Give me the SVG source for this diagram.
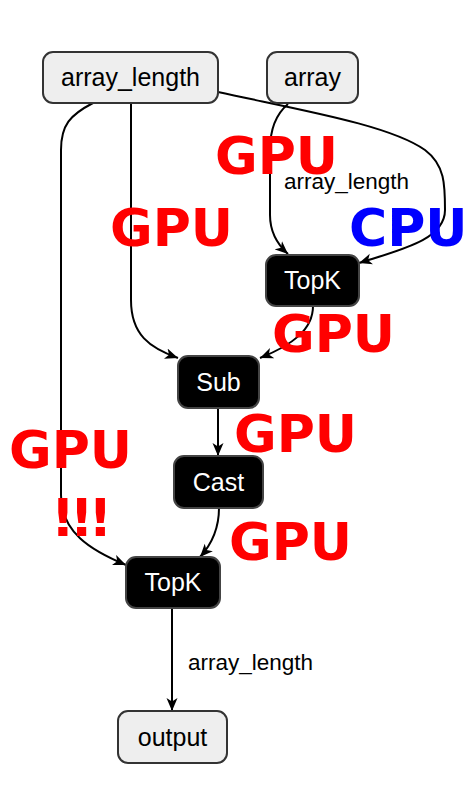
<svg xmlns="http://www.w3.org/2000/svg" width="474" height="811" viewBox="0 0 474 811">
<defs>
<marker id="arr" markerUnits="userSpaceOnUse" markerWidth="14" markerHeight="12" refX="13" refY="6" orient="auto">
<path d="M0,0.5 L13,6 L0,11.5 L3.5,6 Z" fill="#000"/>
</marker>
</defs>
<style>
.io rect{fill:#eeeeee;stroke:#333;stroke-width:2}
.op rect{fill:#000;stroke:#444;stroke-width:2}
.io text{font-family:"Liberation Sans",Arial,sans-serif;font-size:25px;fill:#000;text-anchor:middle}
.op text{font-family:"Liberation Sans",Arial,sans-serif;font-size:25px;fill:#fff;text-anchor:middle}
.edges path{fill:none;stroke:#000;stroke-width:2;marker-end:url(#arr)}
.el{font-family:"Liberation Sans",Arial,sans-serif;font-size:22.5px;fill:#000}
.big{font-family:"DejaVu Sans",Verdana,sans-serif;font-weight:bold;font-size:52px}
.red{fill:#ff0000}
.blue{fill:#0000ff}
</style>
<g class="edges" id="edges">
<path d="M93,103 C70,115 61,125 61,150 L61,495 C61,532 90,550 126,565"/>
<path d="M131,103 L131,300 C131,335 150,348 178,358"/>
<path d="M218,92 C300,110 390,125 425,150 C445,165 445,185 445,210 C445,240 400,250 359,263"/>
<path d="M288,104 C275,115 270,130 270,150 L270,215 C270,232 278,245 288,254"/>
<path d="M313,306 C313,330 292,345 260,358"/>
<path d="M218,408 L218,456"/>
<path d="M219,508 C219,530 211,545 200,557"/>
<path d="M172,608 L172,711"/>
</g>
<g id="n_array_length" class="io"><rect x="43" y="52" width="175" height="51" rx="10"/><text x="130.5" y="86">array_length</text></g>
<g id="n_array" class="io"><rect x="267" y="52" width="91" height="51" rx="10"/><text x="312.5" y="86">array</text></g>
<g id="n_topk1" class="op"><rect x="266" y="255" width="93" height="51" rx="10"/><text x="312.5" y="289">TopK</text></g>
<g id="n_sub" class="op"><rect x="178" y="356" width="81" height="52" rx="10"/><text x="218.5" y="391">Sub</text></g>
<g id="n_cast" class="op"><rect x="174" y="456" width="89" height="52" rx="10"/><text x="218.5" y="491">Cast</text></g>
<g id="n_topk2" class="op"><rect x="126" y="557" width="94" height="51" rx="10"/><text x="173" y="591">TopK</text></g>
<g id="n_output" class="io"><rect x="118" y="711" width="109" height="52" rx="10"/><text x="172.5" y="746">output</text></g>
<text class="el" x="284" y="189">array_length</text>
<text class="el" x="188" y="670">array_length</text>
<text class="big red" x="215" y="174">GPU</text>
<text class="big red" x="110" y="246">GPU</text>
<text class="big blue" x="349" y="246">CPU</text>
<text class="big red" x="272" y="352">GPU</text>
<text class="big red" x="234" y="452">GPU</text>
<text class="big red" x="9" y="468">GPU</text>
<text class="big red" x="51" y="536" letter-spacing="-5">!!!</text>
<text class="big red" x="229" y="560">GPU</text>
</svg>
